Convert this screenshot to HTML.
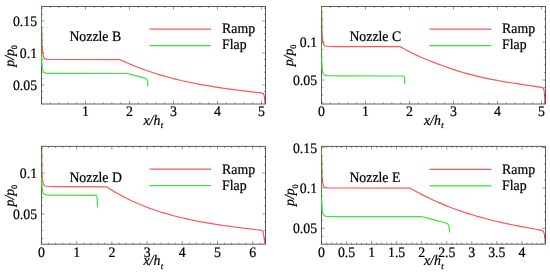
<!DOCTYPE html>
<html><head><meta charset="utf-8"><title>Nozzle pressure distributions</title>
<style>
html,body{margin:0;padding:0;background:#fff;}
svg{display:block;filter:blur(0.3px)}
svg text{font-family:'Liberation Serif', 'DejaVu Serif', serif;font-size:13.8px;fill:#000;stroke:#000;stroke-width:0.22px;text-rendering:geometricPrecision;}
</style></head><body>
<svg width="550" height="272" viewBox="0 0 550 272">
<rect width="550" height="272" fill="#fff"/>
<polyline points="41.6,27 42.0,45 42.6,52 43.4,56.5 44.5,58.6 47,59.3 60,59.5 120.3,59.70 123.3,61.17 126.3,62.51 129.3,63.82 132.3,65.08 135.3,66.30 138.3,67.48 141.3,68.61 144.3,69.71 147.3,70.78 150.3,71.80 153.3,72.79 156.3,73.74 159.3,74.66 162.3,75.55 165.3,76.41 168.3,77.24 171.3,78.04 174.3,78.81 177.3,79.55 180.3,80.27 183.3,80.96 186.3,81.62 189.3,82.27 192.3,82.89 195.3,83.49 198.3,84.07 201.3,84.63 204.3,85.17 207.3,85.69 210.3,86.19 213.3,86.68 216.3,87.15 219.3,87.61 222.3,88.05 225.3,88.48 228.3,88.90 231.3,89.31 234.3,89.71 237.3,90.10 240.3,90.48 243.3,90.85 246.3,91.21 249.3,91.57 252.3,91.93 255.3,92.28 258.3,92.62 261.3,92.97 262.2,93.10 263.4,93.6 264.2,95.5 264.7,99 265,103.5" fill="none" stroke="#ff5555" stroke-width="1.2" stroke-linejoin="round"/>
<rect x="41.5" y="6.5" width="224.00" height="97.50" fill="none" stroke="#2a2a2a" stroke-width="1" stroke-opacity="0.75"/>
<path d="M41.50 104v-3.2M41.50 6.5v3.2M50.30 104v-1.6M50.30 6.5v1.6M59.10 104v-1.6M59.10 6.5v1.6M67.90 104v-1.6M67.90 6.5v1.6M76.70 104v-1.6M76.70 6.5v1.6M85.50 104v-3.2M85.50 6.5v3.2M94.30 104v-1.6M94.30 6.5v1.6M103.10 104v-1.6M103.10 6.5v1.6M111.90 104v-1.6M111.90 6.5v1.6M120.70 104v-1.6M120.70 6.5v1.6M129.50 104v-3.2M129.50 6.5v3.2M138.30 104v-1.6M138.30 6.5v1.6M147.10 104v-1.6M147.10 6.5v1.6M155.90 104v-1.6M155.90 6.5v1.6M164.70 104v-1.6M164.70 6.5v1.6M173.50 104v-3.2M173.50 6.5v3.2M182.30 104v-1.6M182.30 6.5v1.6M191.10 104v-1.6M191.10 6.5v1.6M199.90 104v-1.6M199.90 6.5v1.6M208.70 104v-1.6M208.70 6.5v1.6M217.50 104v-3.2M217.50 6.5v3.2M226.30 104v-1.6M226.30 6.5v1.6M235.10 104v-1.6M235.10 6.5v1.6M243.90 104v-1.6M243.90 6.5v1.6M252.70 104v-1.6M252.70 6.5v1.6M261.50 104v-3.2M261.50 6.5v3.2M41.5 97.80h1.6M265.5 97.80h-1.6M41.5 91.40h1.6M265.5 91.40h-1.6M41.5 85.00h3.2M265.5 85.00h-3.2M41.5 78.60h1.6M265.5 78.60h-1.6M41.5 72.20h1.6M265.5 72.20h-1.6M41.5 65.80h1.6M265.5 65.80h-1.6M41.5 59.40h1.6M265.5 59.40h-1.6M41.5 53.00h3.2M265.5 53.00h-3.2M41.5 46.60h1.6M265.5 46.60h-1.6M41.5 40.20h1.6M265.5 40.20h-1.6M41.5 33.80h1.6M265.5 33.80h-1.6M41.5 27.40h1.6M265.5 27.40h-1.6M41.5 21.00h3.2M265.5 21.00h-3.2M41.5 14.60h1.6M265.5 14.60h-1.6M41.5 8.20h1.6M265.5 8.20h-1.6" stroke="#2a2a2a" stroke-width="0.7" stroke-opacity="0.65" fill="none"/>
<path d="M41.6 6.5V60" stroke="#38e838" stroke-width="1.1" stroke-opacity="0.42"/>
<polyline points="41.7,56 41.9,62 42.3,67.5 43,71 44.2,72.7 46.5,73.3 60,73.4 127.4,73.5 132,74.7 139.4,76.7 144.6,78.1 146.2,78.8 147.2,80.2 147.6,82 147.8,86.2" fill="none" stroke="#38e838" stroke-width="1.2" stroke-linejoin="round"/>
<text transform="translate(37.1 26.00) scale(1 1.05)" text-anchor="end">0.15</text>
<text transform="translate(37.1 58.00) scale(1 1.05)" text-anchor="end">0.1</text>
<text transform="translate(37.1 90.00) scale(1 1.05)" text-anchor="end">0.05</text>
<text transform="translate(85.50 116.00) scale(1 1.05)" text-anchor="middle">1</text>
<text transform="translate(129.50 116.00) scale(1 1.05)" text-anchor="middle">2</text>
<text transform="translate(173.50 116.00) scale(1 1.05)" text-anchor="middle">3</text>
<text transform="translate(217.50 116.00) scale(1 1.05)" text-anchor="middle">4</text>
<text transform="translate(261.50 116.00) scale(1 1.05)" text-anchor="middle">5</text>
<text transform="translate(143.5 124.80) scale(1 1.05)" font-style="italic">x/h<tspan font-size="8.5" dy="3.4" dx="0.3">t</tspan></text>
<text transform="translate(13.9 66.7) rotate(-90)" font-style="italic">p/p<tspan font-size="8.2" dy="3.2" dx="-0.2" font-style="normal" stroke-width="0.3">0</tspan></text>
<text transform="translate(69.4 40.8) scale(1 1.05)">Nozzle B</text>
<path d="M149.5 29.0H211" stroke="#ff5555" stroke-width="1.25"/>
<path d="M149.5 45.5H211" stroke="#38e838" stroke-width="1.25"/>
<text transform="translate(222.1 33) scale(1 1.05)">Ramp</text>
<text transform="translate(222.1 49) scale(1 1.05)">Flap</text>
<polyline points="321.6,12 322.0,34 322.6,40.5 323.5,44.4 325,46 328,46.5 340,46.6 400.0,46.60 403.0,48.23 406.0,49.90 409.0,51.49 412.0,53.01 415.0,54.48 418.0,55.88 421.0,57.22 424.0,58.52 427.0,59.76 430.0,60.97 433.0,62.13 436.0,63.27 439.0,64.38 442.0,65.48 445.0,66.56 448.0,67.62 451.0,68.66 454.0,69.67 457.0,70.63 460.0,71.57 463.0,72.46 466.0,73.32 469.0,74.14 472.0,74.93 475.0,75.69 478.0,76.42 481.0,77.12 484.0,77.79 487.0,78.43 490.0,79.05 493.0,79.64 496.0,80.21 499.0,80.76 502.0,81.29 505.0,81.80 508.0,82.30 511.0,82.78 514.0,83.24 517.0,83.70 520.0,84.15 523.0,84.59 526.0,85.04 529.0,85.48 532.0,85.93 535.0,86.39 538.0,86.85 541.0,87.33 542.2,87.50 543.4,88.2 544.1,90.7 544.6,95 544.9,103.5" fill="none" stroke="#ff5555" stroke-width="1.2" stroke-linejoin="round"/>
<rect x="321.5" y="6.5" width="224.00" height="97.50" fill="none" stroke="#2a2a2a" stroke-width="1" stroke-opacity="0.75"/>
<path d="M321.50 104v-3.2M321.50 6.5v3.2M330.30 104v-1.6M330.30 6.5v1.6M339.10 104v-1.6M339.10 6.5v1.6M347.90 104v-1.6M347.90 6.5v1.6M356.70 104v-1.6M356.70 6.5v1.6M365.50 104v-3.2M365.50 6.5v3.2M374.30 104v-1.6M374.30 6.5v1.6M383.10 104v-1.6M383.10 6.5v1.6M391.90 104v-1.6M391.90 6.5v1.6M400.70 104v-1.6M400.70 6.5v1.6M409.50 104v-3.2M409.50 6.5v3.2M418.30 104v-1.6M418.30 6.5v1.6M427.10 104v-1.6M427.10 6.5v1.6M435.90 104v-1.6M435.90 6.5v1.6M444.70 104v-1.6M444.70 6.5v1.6M453.50 104v-3.2M453.50 6.5v3.2M462.30 104v-1.6M462.30 6.5v1.6M471.10 104v-1.6M471.10 6.5v1.6M479.90 104v-1.6M479.90 6.5v1.6M488.70 104v-1.6M488.70 6.5v1.6M497.50 104v-3.2M497.50 6.5v3.2M506.30 104v-1.6M506.30 6.5v1.6M515.10 104v-1.6M515.10 6.5v1.6M523.90 104v-1.6M523.90 6.5v1.6M532.70 104v-1.6M532.70 6.5v1.6M541.50 104v-3.2M541.50 6.5v3.2M321.5 102.80h1.6M545.5 102.80h-1.6M321.5 95.20h1.6M545.5 95.20h-1.6M321.5 87.60h1.6M545.5 87.60h-1.6M321.5 80.00h3.2M545.5 80.00h-3.2M321.5 72.40h1.6M545.5 72.40h-1.6M321.5 64.80h1.6M545.5 64.80h-1.6M321.5 57.20h1.6M545.5 57.20h-1.6M321.5 49.60h1.6M545.5 49.60h-1.6M321.5 42.00h3.2M545.5 42.00h-3.2M321.5 34.40h1.6M545.5 34.40h-1.6M321.5 26.80h1.6M545.5 26.80h-1.6M321.5 19.20h1.6M545.5 19.20h-1.6M321.5 11.60h1.6M545.5 11.60h-1.6" stroke="#2a2a2a" stroke-width="0.7" stroke-opacity="0.65" fill="none"/>
<path d="M321.6 6.5V62" stroke="#38e838" stroke-width="1.1" stroke-opacity="0.42"/>
<polyline points="321.7,58 321.9,64 322.3,69.5 323,73 324.5,74.9 327,75.6 340,75.8 403.3,76 404.2,76.4 404.6,78 404.8,84" fill="none" stroke="#38e838" stroke-width="1.2" stroke-linejoin="round"/>
<text transform="translate(317.1 47.00) scale(1 1.05)" text-anchor="end">0.1</text>
<text transform="translate(317.1 85.00) scale(1 1.05)" text-anchor="end">0.05</text>
<text transform="translate(321.50 116.00) scale(1 1.05)" text-anchor="middle">0</text>
<text transform="translate(365.50 116.00) scale(1 1.05)" text-anchor="middle">1</text>
<text transform="translate(409.50 116.00) scale(1 1.05)" text-anchor="middle">2</text>
<text transform="translate(453.50 116.00) scale(1 1.05)" text-anchor="middle">3</text>
<text transform="translate(497.50 116.00) scale(1 1.05)" text-anchor="middle">4</text>
<text transform="translate(541.50 116.00) scale(1 1.05)" text-anchor="middle">5</text>
<text transform="translate(424 124.80) scale(1 1.05)" font-style="italic">x/h<tspan font-size="8.5" dy="3.4" dx="0.3">t</tspan></text>
<text transform="translate(293.2 66.3) rotate(-90)" font-style="italic">p/p<tspan font-size="8.2" dy="3.2" dx="-0.2" font-style="normal" stroke-width="0.3">0</tspan></text>
<text transform="translate(349.4 40.9) scale(1 1.05)">Nozzle C</text>
<path d="M429.5 29.2H491.5" stroke="#ff5555" stroke-width="1.25"/>
<path d="M429.5 45.6H491.5" stroke="#38e838" stroke-width="1.25"/>
<text transform="translate(502.1 33) scale(1 1.05)">Ramp</text>
<text transform="translate(502.1 49) scale(1 1.05)">Flap</text>
<polyline points="41.6,146.5 42.0,174 42.6,180.5 43.5,184.4 45,186 48,186.5 60,186.7 106.6,186.80 109.6,188.79 112.6,190.63 115.6,192.40 118.6,194.10 121.6,195.74 124.6,197.31 127.6,198.83 130.6,200.28 133.6,201.68 136.6,203.02 139.6,204.30 142.6,205.54 145.6,206.73 148.6,207.86 151.6,208.96 154.6,210.00 157.6,211.01 160.6,211.98 163.6,212.90 166.6,213.80 169.6,214.65 172.6,215.47 175.6,216.26 178.6,217.02 181.6,217.75 184.6,218.45 187.6,219.12 190.6,219.77 193.6,220.39 196.6,220.99 199.6,221.56 202.6,222.12 205.6,222.65 208.6,223.16 211.6,223.66 214.6,224.13 217.6,224.60 220.6,225.05 223.6,225.48 226.6,225.91 229.6,226.32 232.6,226.72 235.6,227.12 238.6,227.51 241.6,227.89 244.6,228.27 247.6,228.65 250.6,229.02 253.6,229.39 256.6,229.77 259.6,230.14 262.2,230.50 263,231.3 264,237 264.8,243.3" fill="none" stroke="#ff5555" stroke-width="1.2" stroke-linejoin="round"/>
<rect x="41.5" y="146.4" width="224.00" height="97.80" fill="none" stroke="#2a2a2a" stroke-width="1" stroke-opacity="0.75"/>
<path d="M41.50 244.2v-3.2M41.50 146.4v3.2M48.54 244.2v-1.6M48.54 146.4v1.6M55.58 244.2v-1.6M55.58 146.4v1.6M62.62 244.2v-1.6M62.62 146.4v1.6M69.66 244.2v-1.6M69.66 146.4v1.6M76.70 244.2v-3.2M76.70 146.4v3.2M83.74 244.2v-1.6M83.74 146.4v1.6M90.78 244.2v-1.6M90.78 146.4v1.6M97.82 244.2v-1.6M97.82 146.4v1.6M104.86 244.2v-1.6M104.86 146.4v1.6M111.90 244.2v-3.2M111.90 146.4v3.2M118.94 244.2v-1.6M118.94 146.4v1.6M125.98 244.2v-1.6M125.98 146.4v1.6M133.02 244.2v-1.6M133.02 146.4v1.6M140.06 244.2v-1.6M140.06 146.4v1.6M147.10 244.2v-3.2M147.10 146.4v3.2M154.14 244.2v-1.6M154.14 146.4v1.6M161.18 244.2v-1.6M161.18 146.4v1.6M168.22 244.2v-1.6M168.22 146.4v1.6M175.26 244.2v-1.6M175.26 146.4v1.6M182.30 244.2v-3.2M182.30 146.4v3.2M189.34 244.2v-1.6M189.34 146.4v1.6M196.38 244.2v-1.6M196.38 146.4v1.6M203.42 244.2v-1.6M203.42 146.4v1.6M210.46 244.2v-1.6M210.46 146.4v1.6M217.50 244.2v-3.2M217.50 146.4v3.2M224.54 244.2v-1.6M224.54 146.4v1.6M231.58 244.2v-1.6M231.58 146.4v1.6M238.62 244.2v-1.6M238.62 146.4v1.6M245.66 244.2v-1.6M245.66 146.4v1.6M252.70 244.2v-3.2M252.70 146.4v3.2M259.74 244.2v-1.6M259.74 146.4v1.6M41.5 238.60h1.6M265.5 238.60h-1.6M41.5 230.40h1.6M265.5 230.40h-1.6M41.5 222.20h1.6M265.5 222.20h-1.6M41.5 214.00h3.2M265.5 214.00h-3.2M41.5 205.80h1.6M265.5 205.80h-1.6M41.5 197.60h1.6M265.5 197.60h-1.6M41.5 189.40h1.6M265.5 189.40h-1.6M41.5 181.20h1.6M265.5 181.20h-1.6M41.5 173.00h3.2M265.5 173.00h-3.2M41.5 164.80h1.6M265.5 164.80h-1.6M41.5 156.60h1.6M265.5 156.60h-1.6M41.5 148.40h1.6M265.5 148.40h-1.6" stroke="#2a2a2a" stroke-width="0.7" stroke-opacity="0.65" fill="none"/>
<path d="M41.6 146.4V182" stroke="#38e838" stroke-width="1.1" stroke-opacity="0.42"/>
<polyline points="41.7,178 41.9,184 42.3,189.5 43,192.8 44.5,194.5 47,195.1 60,195.2 95.5,195.3 96.6,196 97.2,199 97.6,207.5" fill="none" stroke="#38e838" stroke-width="1.2" stroke-linejoin="round"/>
<text transform="translate(37.1 178.00) scale(1 1.05)" text-anchor="end">0.1</text>
<text transform="translate(37.1 219.00) scale(1 1.05)" text-anchor="end">0.05</text>
<text transform="translate(41.50 256.60) scale(1 1.05)" text-anchor="middle">0</text>
<text transform="translate(76.70 256.60) scale(1 1.05)" text-anchor="middle">1</text>
<text transform="translate(111.90 256.60) scale(1 1.05)" text-anchor="middle">2</text>
<text transform="translate(147.10 256.60) scale(1 1.05)" text-anchor="middle">3</text>
<text transform="translate(182.30 256.60) scale(1 1.05)" text-anchor="middle">4</text>
<text transform="translate(217.50 256.60) scale(1 1.05)" text-anchor="middle">5</text>
<text transform="translate(252.70 256.60) scale(1 1.05)" text-anchor="middle">6</text>
<text transform="translate(143.5 265.00) scale(1 1.05)" font-style="italic">x/h<tspan font-size="8.5" dy="3.4" dx="0.3">t</tspan></text>
<text transform="translate(13.9 206.5) rotate(-90)" font-style="italic">p/p<tspan font-size="8.2" dy="3.2" dx="-0.2" font-style="normal" stroke-width="0.3">0</tspan></text>
<text transform="translate(69.4 181.5) scale(1 1.05)">Nozzle D</text>
<path d="M149.5 169.0H211" stroke="#ff5555" stroke-width="1.25"/>
<path d="M149.5 185.6H211" stroke="#38e838" stroke-width="1.25"/>
<text transform="translate(222.1 174) scale(1 1.05)">Ramp</text>
<text transform="translate(222.1 190) scale(1 1.05)">Flap</text>
<polyline points="321.6,156 322.0,176 322.6,182 323.5,185.8 325,187.4 328,187.9 340,188 410.0,188.10 413.0,189.77 416.0,191.44 419.0,193.05 422.0,194.62 425.0,196.15 428.0,197.63 431.0,199.06 434.0,200.45 437.0,201.80 440.0,203.11 443.0,204.37 446.0,205.60 449.0,206.79 452.0,207.94 455.0,209.06 458.0,210.14 461.0,211.19 464.0,212.20 467.0,213.18 470.0,214.13 473.0,215.05 476.0,215.95 479.0,216.81 482.0,217.65 485.0,218.46 488.0,219.24 491.0,220.01 494.0,220.75 497.0,221.46 500.0,222.16 503.0,222.84 506.0,223.50 509.0,224.14 512.0,224.76 515.0,225.37 518.0,225.96 521.0,226.55 524.0,227.11 527.0,227.67 530.0,228.22 533.0,228.75 536.0,229.28 539.0,229.80 541.8,230.30 543.2,231.2 544.2,233.5 544.8,237 545.1,243.3" fill="none" stroke="#ff5555" stroke-width="1.2" stroke-linejoin="round"/>
<rect x="321.5" y="146.4" width="224.00" height="97.80" fill="none" stroke="#2a2a2a" stroke-width="1" stroke-opacity="0.75"/>
<path d="M321.50 244.2v-3.2M321.50 146.4v3.2M326.51 244.2v-1.6M326.51 146.4v1.6M331.52 244.2v-1.6M331.52 146.4v1.6M336.53 244.2v-1.6M336.53 146.4v1.6M341.54 244.2v-1.6M341.54 146.4v1.6M346.55 244.2v-3.2M346.55 146.4v3.2M351.56 244.2v-1.6M351.56 146.4v1.6M356.57 244.2v-1.6M356.57 146.4v1.6M361.58 244.2v-1.6M361.58 146.4v1.6M366.59 244.2v-1.6M366.59 146.4v1.6M371.60 244.2v-3.2M371.60 146.4v3.2M376.61 244.2v-1.6M376.61 146.4v1.6M381.62 244.2v-1.6M381.62 146.4v1.6M386.63 244.2v-1.6M386.63 146.4v1.6M391.64 244.2v-1.6M391.64 146.4v1.6M396.65 244.2v-3.2M396.65 146.4v3.2M401.66 244.2v-1.6M401.66 146.4v1.6M406.67 244.2v-1.6M406.67 146.4v1.6M411.68 244.2v-1.6M411.68 146.4v1.6M416.69 244.2v-1.6M416.69 146.4v1.6M421.70 244.2v-3.2M421.70 146.4v3.2M426.71 244.2v-1.6M426.71 146.4v1.6M431.72 244.2v-1.6M431.72 146.4v1.6M436.73 244.2v-1.6M436.73 146.4v1.6M441.74 244.2v-1.6M441.74 146.4v1.6M446.75 244.2v-3.2M446.75 146.4v3.2M451.76 244.2v-1.6M451.76 146.4v1.6M456.77 244.2v-1.6M456.77 146.4v1.6M461.78 244.2v-1.6M461.78 146.4v1.6M466.79 244.2v-1.6M466.79 146.4v1.6M471.80 244.2v-3.2M471.80 146.4v3.2M476.81 244.2v-1.6M476.81 146.4v1.6M481.82 244.2v-1.6M481.82 146.4v1.6M486.83 244.2v-1.6M486.83 146.4v1.6M491.84 244.2v-1.6M491.84 146.4v1.6M496.85 244.2v-3.2M496.85 146.4v3.2M501.86 244.2v-1.6M501.86 146.4v1.6M506.87 244.2v-1.6M506.87 146.4v1.6M511.88 244.2v-1.6M511.88 146.4v1.6M516.89 244.2v-1.6M516.89 146.4v1.6M521.90 244.2v-3.2M521.90 146.4v3.2M526.91 244.2v-1.6M526.91 146.4v1.6M531.92 244.2v-1.6M531.92 146.4v1.6M536.93 244.2v-1.6M536.93 146.4v1.6M541.94 244.2v-1.6M541.94 146.4v1.6M321.5 236.48h1.6M545.5 236.48h-1.6M321.5 228.40h3.2M545.5 228.40h-3.2M321.5 220.32h1.6M545.5 220.32h-1.6M321.5 212.24h1.6M545.5 212.24h-1.6M321.5 204.16h1.6M545.5 204.16h-1.6M321.5 196.08h1.6M545.5 196.08h-1.6M321.5 188.00h3.2M545.5 188.00h-3.2M321.5 179.92h1.6M545.5 179.92h-1.6M321.5 171.84h1.6M545.5 171.84h-1.6M321.5 163.76h1.6M545.5 163.76h-1.6M321.5 155.68h1.6M545.5 155.68h-1.6M321.5 147.60h3.2M545.5 147.60h-3.2" stroke="#2a2a2a" stroke-width="0.7" stroke-opacity="0.65" fill="none"/>
<path d="M321.6 146.4V203" stroke="#38e838" stroke-width="1.1" stroke-opacity="0.42"/>
<polyline points="321.7,199 321.9,205 322.3,210.5 323,214 324.5,215.8 327,216.5 340,216.6 421.3,216.5 429.4,218.7 436.8,220.6 444.1,222.5 446.6,223.2 447.8,224 448.8,225.8 449.3,228 449.7,232.5" fill="none" stroke="#38e838" stroke-width="1.2" stroke-linejoin="round"/>
<text transform="translate(317.1 152.60) scale(1 1.05)" text-anchor="end">0.15</text>
<text transform="translate(317.1 193.00) scale(1 1.05)" text-anchor="end">0.1</text>
<text transform="translate(317.1 233.40) scale(1 1.05)" text-anchor="end">0.05</text>
<text transform="translate(321.50 256.60) scale(1 1.05)" text-anchor="middle">0</text>
<text transform="translate(346.55 256.60) scale(1 1.05)" text-anchor="middle">0.5</text>
<text transform="translate(371.60 256.60) scale(1 1.05)" text-anchor="middle">1</text>
<text transform="translate(396.65 256.60) scale(1 1.05)" text-anchor="middle">1.5</text>
<text transform="translate(421.70 256.60) scale(1 1.05)" text-anchor="middle">2</text>
<text transform="translate(446.75 256.60) scale(1 1.05)" text-anchor="middle">2.5</text>
<text transform="translate(471.80 256.60) scale(1 1.05)" text-anchor="middle">3</text>
<text transform="translate(496.85 256.60) scale(1 1.05)" text-anchor="middle">3.5</text>
<text transform="translate(521.90 256.60) scale(1 1.05)" text-anchor="middle">4</text>
<text transform="translate(424 265.00) scale(1 1.05)" font-style="italic">x/h<tspan font-size="8.5" dy="3.4" dx="0.3">t</tspan></text>
<text transform="translate(294.4 206.0) rotate(-90)" font-style="italic">p/p<tspan font-size="8.2" dy="3.2" dx="-0.2" font-style="normal" stroke-width="0.3">0</tspan></text>
<text transform="translate(349.4 181.9) scale(1 1.05)">Nozzle E</text>
<path d="M429.5 169.4H491.5" stroke="#ff5555" stroke-width="1.25"/>
<path d="M429.5 185.8H491.5" stroke="#38e838" stroke-width="1.25"/>
<text transform="translate(502.1 174) scale(1 1.05)">Ramp</text>
<text transform="translate(502.1 190) scale(1 1.05)">Flap</text>
</svg>
</body></html>
